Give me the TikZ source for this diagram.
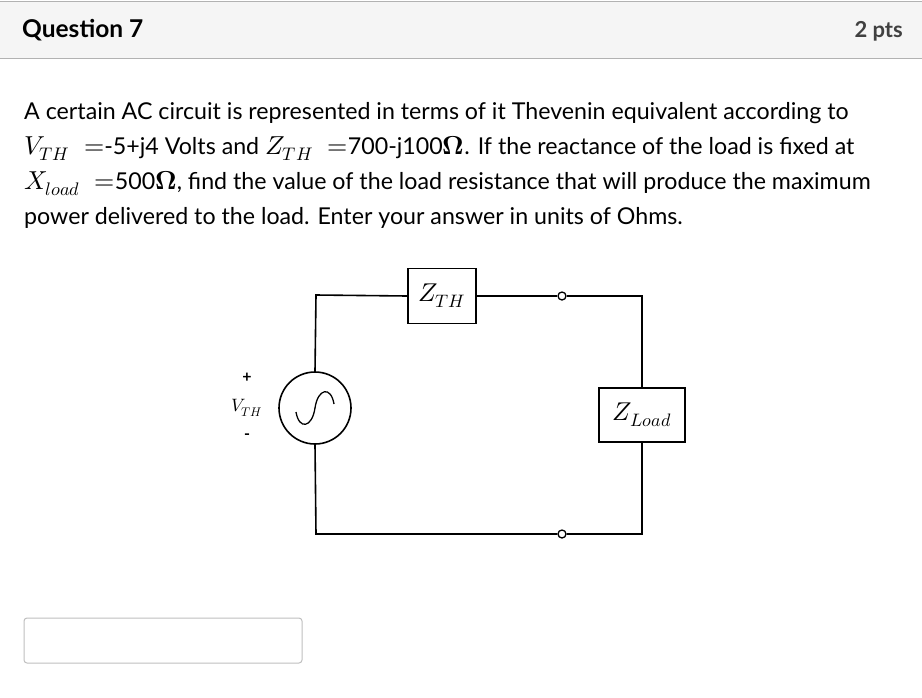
\documentclass[tikz,border=0pt]{standalone}
\usepackage{fontspec}
\setmainfont{Lato}
\usepackage{unicode-math}
\setmathfont[Scale=1.12]{Latin Modern Math}
\begin{document}
\begin{tikzpicture}[x=1pt,y=-1pt,
  wire/.style={line width=1.6pt},
  imp/.style={draw,line width=1.6pt,inner sep=0pt,font=\fontsize{23}{28}\selectfont},
  term/.style={circle,draw,line width=1.3pt,fill=white,inner sep=0pt,minimum size=8pt},
  txt/.style={anchor=base west,inner sep=0pt,font=\fontsize{23.2}{26}\selectfont}]
\useasboundingbox (0,0) rectangle (922,697);
\fill[gray!8] (0,1) rectangle (922,58);
\draw[gray!60,line width=1pt] (0,1) -- (922,1);
\draw[gray!60,line width=1pt] (0,58) -- (922,58);
\node[anchor=base west,inner sep=0pt,font=\fontsize{24.5}{28}\selectfont\bfseries] (q) at (22,37) {Question 7};
\node[anchor=base east,inner sep=0pt,font=\fontsize{22}{26}\selectfont\bfseries,text=black!75] (p) at (903,37) {2 pts};
\node[txt] (l1) at (24,119) {A certain AC circuit is represented in terms of it Thevenin equivalent according to};
\node[txt] (l2) at (24,154) {$V_{TH}\;=$-5+j4 Volts and $Z_{TH}\;=$700-j100$\symbf{\Omega}$.  If the reactance of the load is fixed at};
\node[txt] (l3) at (24,189) {$X_{load}\;=$500$\symbf{\Omega}$,  find the value of the load resistance that will produce the maximum};
\node[txt] (l4) at (24,224) {power delivered to the load.  Enter your answer in units of Ohms.};
% circuit
\node[imp,minimum width=68pt,minimum height=55pt] (zth) at (442,296) {$Z_{TH}$};
\node[imp,minimum width=86pt,minimum height=54pt] (zl) at (642,415) {$Z_{Load}$};
\node[circle,draw,line width=1.6pt,minimum size=72pt,inner sep=0pt] (src) at (315,408) {};
\draw[line width=1.3pt] (296,412) .. controls (299,430) and (312,428) .. (315,408) .. controls (318,388) and (331,386) .. (334,404);
\node[term] (t1) at (562,296) {};
\node[term] (t2) at (562,534) {};
\coordinate (tl) at (316,295);
\coordinate (tr) at (642,296);
\coordinate (bl) at (316,534);
\coordinate (br) at (642,534);
\draw[wire] (src.north) -- (tl) -- (zth.west);
\draw[wire] (zth.east) -- (t1) -- (tr) -- (zl.north);
\draw[wire] (zl.south) -- (br) -- (t2) -- (bl) -- (src.south);
\node[font=\fontsize{16}{18}\selectfont\bfseries] (plus) at (247,378) {+};
\node[font=\fontsize{16}{20}\selectfont] (vth) at (247,408) {$V_{TH}$};
\node[font=\fontsize{16}{18}\selectfont\bfseries] (minus) at (247,437) {-};
\draw[gray!50,line width=1pt,rounded corners=3pt] (24,618) rectangle (302,663);
\end{tikzpicture}
\end{document}
